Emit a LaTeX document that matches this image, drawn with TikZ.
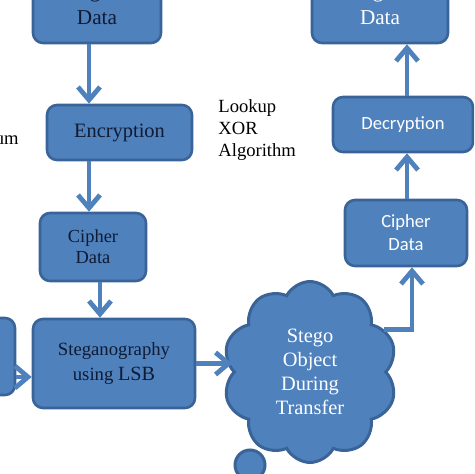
\documentclass[tikz,border=0pt]{standalone}
\usepackage{fontspec}
\setmainfont{Liberation Serif}
\newfontfamily\calibri{Carlito}
\usetikzlibrary{arrows.meta,shapes.symbols}
\definecolor{boxblue}{HTML}{4F81BD}
\definecolor{edgeblue}{HTML}{3A6497}
\definecolor{inkdark}{HTML}{101A33}
\tikzset{
  block/.style={draw=edgeblue, line width=1.3pt, fill=boxblue, rounded corners=5pt,
    inner sep=0pt, align=center, text=inkdark},
  lightblock/.style={block, text=white, font=\calibri\fontsize{9.3}{11.5}\selectfont},
  flow/.style={draw=boxblue, line width=2.4pt, -{Straight Barb[length=6.5pt,width=11pt]}},
}
\begin{document}
\begin{tikzpicture}[x=0.5pt,y=-0.5pt]
\clip (0,0) rectangle (474,474);
\useasboundingbox (0,0) rectangle (474,474);

\coordinate (colL) at (89,0);
\coordinate (colS) at (100,0);
\coordinate (colR) at (407,0);
\coordinate (rowS) at (0,377);
\coordinate (turn) at (412,327);

% sender side
\draw (97,4) node[block, minimum width=64pt, minimum height=39pt, font=\fontsize{10.6}{13.5}\selectfont] (origL) {Original\\Data} ;
\draw (119.5,132.5) node[block, minimum width=72.5pt, minimum height=27.5pt, font=\fontsize{10.2}{12}\selectfont] (enc) {Encryption} ;
\draw (93,247) node[block, minimum width=53pt, minimum height=34pt, font=\fontsize{9.2}{10.5}\selectfont] (cipL) {Cipher\\Data} ;
\draw (114,363.5) node[block, minimum width=81pt, minimum height=44.5pt, font=\fontsize{9.35}{12.5}\selectfont] (steg) {Steganography\\using {\fontsize{10.1}{12.5}\selectfont LSB}} ;
\draw (-12.5,356.5) node[block, minimum width=27.5pt, minimum height=38.5pt] (src) {} ;

\draw (218,130) node[anchor=west, inner sep=0pt, align=left, font=\fontsize{9.3}{11}\selectfont] (algo) {Lookup\\XOR\\Algorithm} ;
\draw (19,140) node[anchor=east, inner sep=0pt, font=\fontsize{9.3}{11}\selectfont] (leftnote) {um} ;

\draw[flow] (origL.south -| colL) -- (enc.north -| colL) ;
\draw[flow] (enc.south -| colL) -- (cipL.north -| colL) ;
\draw[flow] (cipL.south -| colS) -- (steg.north -| colS) ;
\draw[flow] (src.east |- rowS) -- (steg.west |- rowS) ;

% transfer
\draw (310,372) node[cloud, cloud puffs=10, cloud puff arc=125, cloud ignores aspect,
  draw=edgeblue, line width=1.5pt, fill=boxblue, minimum width=87pt, minimum height=90.5pt,
  inner sep=0pt, align=center, text=white, font=\fontsize{10.2}{12}\selectfont] (stego) {Stego\\Object\\During\\Transfer} ;
\draw (250,465) node[circle, draw=edgeblue, line width=1.5pt, fill=boxblue, minimum size=15pt, inner sep=0pt] (bubble) {} ;
\draw[flow] (steg.east) -- (stego.west |- steg.east) ;

% receiver side
\draw (406,233) node[lightblock, minimum width=61pt, minimum height=33pt] (cipR) {Cipher\\Data} ;
\draw (403,124.5) node[lightblock, minimum width=70pt, minimum height=27.5pt] (dec) {Decryption} ;
\draw (380,4) node[block, text=white, minimum width=68pt, minimum height=39pt, font=\fontsize{10.6}{13.5}\selectfont] (origR) {Original\\Data} ;

\draw[flow] (stego.30) -- (stego.30 -| turn) -- (cipR.south -| turn) ;
\draw[flow] (cipR.north -| colR) -- (dec.south -| colR) ;
\draw[flow] (dec.north -| colR) -- (origR.south -| colR) ;

\end{tikzpicture}
\end{document}
